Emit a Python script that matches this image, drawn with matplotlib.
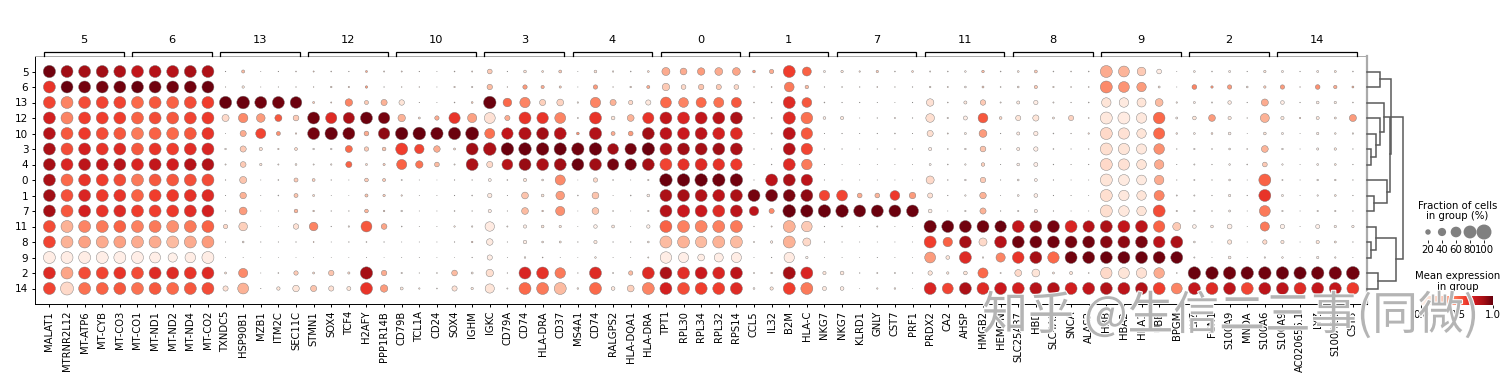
import numpy as np
import matplotlib
matplotlib.use("Agg")
import matplotlib.pyplot as plt
import matplotlib.patheffects as pe

# --- Config ---
W, H = 1511, 383
DPI = 100
MAX_AREA = 95  # scatter area of a 100% dot
LINE_GREY = "#5a5a5a"

clusters = ["5", "6", "13", "12", "10", "3", "4", "0", "1", "7", "11", "8", "9", "2", "14"]
group_labels = ["5", "6", "13", "12", "10", "3", "4", "0", "1", "7", "11", "8", "9", "2", "14"]
genes = [
    "MALAT1", "MTRNR2L12", "MT-ATP6", "MT-CYB", "MT-CO3",
    "MT-CO1", "MT-ND1", "MT-ND2", "MT-ND4", "MT-CO2",
    "TXNDC5", "HSP90B1", "MZB1", "ITM2C", "SEC11C",
    "STMN1", "SOX4", "TCF4", "H2AFY", "PPP1R14B",
    "CD79B", "TCL1A", "CD24", "SOX4", "IGHM",
    "IGKC", "CD79A", "CD74", "HLA-DRA", "CD37",
    "MS4A1", "CD74", "RALGPS2", "HLA-DQA1", "HLA-DRA",
    "TPT1", "RPL30", "RPL34", "RPL32", "RPS14",
    "CCL5", "IL32", "B2M", "HLA-C", "NKG7",
    "NKG7", "KLRD1", "GNLY", "CST7", "PRF1",
    "PRDX2", "CA2", "AHSP", "HMGB2", "HEMGN",
    "SLC25A37", "HBD", "SLC4A1", "SNCA", "ALAS2",
    "HBB", "HBA2", "HBA1", "UBB", "BPGM",
    "LYZ", "FCN1", "S100A9", "MNDA", "S100A6",
    "S100A9", "AC020656.1", "LYZ", "S100A11", "CST3",
]

# fraction of cells in group (%), one row per cluster
frac = [
    [88,85,85,85,85, 85,85,85,85,85, 2,14,1,2,3, 4,3,2,8,4, 4,2,1,3,4, 25,2,12,7,13, 1,12,5,3,7, 50,40,45,48,48, 12,22,85,58,8, 10,5,10,3,7, 4,3,6,11,3, 7,13,3,3,3, 85,75,55,25,1, 7,3,8,2,10, 8,2,8,8,3],
    [85,85,85,85,85, 85,85,85,85,85, 1.5,10,1,1.5,2, 2,6,5,10,2, 2,2,1,5,5, 30,2,22,15,9, 1,22,2,6,14, 45,25,30,28,25, 2,3,65,17,2, 3,2,3,2,2, 6,4,7,8,3, 7,15,5,3,3, 85,75,62,8,1, 25,10,22,7,10, 22,2,24,16,8],
    [85,85,85,85,85, 85,85,85,85,85, 88,92,85,85,82, 8,4,45,20,35, 30,1.5,1,3,7, 90,55,70,35,40, 5,70,35,22,28, 75,65,68,68,68, 3,3,85,65,3, 2,2,1.5,1,2, 45,3,14,30,4, 14,22,4,2,3, 62,62,58,48,5, 8,4,17,2,42, 18,2,12,10,3],
    [85,85,85,85,85, 85,85,85,85,85, 42,62,55,42,32, 85,78,78,85,80, 45,8,22,78,60, 75,28,85,80,75, 4,85,18,40,78, 85,85,85,85,85, 3,3,88,82,12, 15,1,2,4,2, 55,5,20,65,12, 28,35,8,28,3, 85,85,70,82,8, 18,40,15,2,58, 15,5,14,8,42],
    [85,85,85,85,85, 85,85,85,85,85, 1,35,68,20,5, 85,90,85,25,80, 90,92,88,88,95, 68,80,88,85,85, 12,88,20,25,85, 85,85,85,85,85, 1.5,4,88,80,1.5, 2,1.5,2,3,1.5, 35,4,8,48,2, 14,22,3,2,5, 85,78,62,78,6, 7,7,12,1,12, 8,1,10,6,5],
    [85,85,85,85,85, 85,85,85,85,85, 6,35,15,5,13, 6,6,42,22,18, 85,62,38,8,85, 92,90,90,90,88, 88,90,75,80,90, 85,85,85,85,85, 2,2,85,80,2, 2,1,1.5,2,1.5, 15,3,6,32,2, 14,22,3,1.5,2, 85,78,68,72,2, 5,3,7,3,40, 6,1,9,10,2],
    [85,85,85,85,85, 85,85,85,85,85, 4,32,10,4,7, 4,5,35,8,9, 68,45,25,4,85, 35,75,85,85,85, 85,85,80,80,85, 85,80,85,82,80, 1.5,2.5,85,72,1.5, 1,1,1,1,1, 8,3,5,17,1.5, 12,20,2.5,1.5,2, 85,78,65,62,1.5, 4,2,6,3,25, 5,1,7,7,2],
    [85,85,85,85,85, 85,85,85,85,85, 2,42,1,3,20, 13,2,1,18,14, 4,1,0.6,2,2, 13,3,15,7,68, 0.7,22,3,1,5, 90,90,90,90,90, 1.5,85,85,80,1.5, 1,1,1,1,1, 50,2.5,6,30,1.5, 7,13,2,1,1, 85,75,65,62,1.5, 4,2,7,1,85, 4,1,6,6,2],
    [85,85,85,85,85, 85,85,85,85,85, 1.5,38,1,3,20, 8,1,0.7,14,10, 5,1,1,2,3, 22,1.5,40,12,55, 3,40,1,3,12, 85,85,85,85,85, 85,85,85,85,72, 75,25,25,65,38, 27,2,5,38,1, 7,18,2,1.5,1, 85,70,62,68,4, 4,2,10,2,85, 8,1,5,7,2],
    [85,85,85,85,85, 85,85,85,85,85, 2,48,1,1,18, 6,2,2,18,6, 6,1,1,3,2, 15,1.5,40,6,60, 0.8,40,3,0.8,5, 85,88,85,85,85, 62,28,92,88,90, 90,85,85,85,85, 18,1,5,35,2, 5,15,2,1,1, 85,72,62,85,5, 5,2.5,8,1,75, 5,1,5,5,2],
    [85,85,85,85,85, 85,85,85,85,85, 22,55,0.7,0.7,30, 55,2,5,75,32, 3,1,1,5,5, 62,4,15,12,10, 0.8,17,13,0.8,16, 85,85,85,85,85, 2,4,85,72,2, 3,1,4,1,1, 88,85,85,85,80, 85,85,85,85,80, 85,85,85,80,50, 18,12,25,1,60, 22,1,20,10,10],
    [85,85,85,85,85, 85,85,85,85,85, 1.5,7,1.5,1.5,2, 3,1,2,3,2, 1,1,1,2,6, 38,1.5,17,7,8, 2,15,2,2,7, 85,85,80,85,85, 4,10,85,50,2, 1.5,1,1,1,1, 85,62,85,50,85, 85,85,85,85,85, 85,85,85,82,85, 7,1,22,1,22, 15,1,15,8,2],
    [85,85,85,85,85, 85,75,60,72,85, 1,1,0.7,0.7,0.7, 0.7,0.7,0.7,1.2,0.7, 1,1,0.7,0.7,2, 28,1,6,3,1, 0.7,6,1,1,4, 80,68,40,58,68, 1,2,70,10,1, 1,0.7,1.5,1,0.7, 75,18,85,5,60, 82,85,80,85,85, 85,85,85,85,85, 4,1,12,1,5, 6,0.7,10,5,1],
    [85,85,85,85,85, 85,85,85,85,85, 8,60,1,3,22, 8,30,9,88,30, 5,1.5,3,32,8, 45,2,85,85,72, 2,85,4,22,85, 85,85,85,85,85, 4,6,88,85,15, 18,2,4,4,2, 22,10,18,68,4, 40,48,8,14,3, 80,75,70,72,3, 90,90,90,90,90, 90,88,90,90,95],
    [85,95,85,85,85, 85,85,85,85,85, 28,75,1.5,16,38, 35,28,20,85,45, 13,5,3,28,10, 60,4,85,85,85, 6,85,18,40,85, 85,85,85,85,85, 7,15,85,85,20, 18,0.7,5,6,0.7, 85,75,85,85,85, 85,85,85,85,85, 85,85,85,85,75, 85,85,85,85,85, 85,85,85,85,85],
]

# mean expression in group, scaled 0-1, same shape as frac
expr = [
    [.98,.88,.87,.88,.84, .78,.82,.82,.86,.84, .2,.25,.2,.2,.15, .2,.15,.1,.3,.15, .15,.2,.1,.2,.15, .2,.1,.12,.15,.2, .1,.12,.12,.1,.15, .3,.3,.35,.3,.32, .35,.3,.62,.52,.05, .1,.15,.2,.1,.15, .1,.1,.05,.25,.15, .1,.2,.1,.1,.1, .3,.27,.2,.05,.05, .05,.05,.05,.05,.1, .05,.05,.05,.1,.05],
    [.65,1,.97,.97,.98, 1,.98,.98,.98,.99, .2,.1,.2,.1,.15, .2,.15,.2,.35,.1, .2,.2,.1,.15,.1, .25,.2,.35,.3,.2, .1,.35,.2,.15,.3, .2,.15,.22,.2,.15, .15,.2,.45,.25,.1, .1,.15,.2,.1,.1, .1,.15,.05,.2,.15, .1,.2,.15,.15,.15, .4,.37,.35,.1,.05, .42,.38,.35,.12,.2, .35,.2,.38,.3,.3],
    [.6,.42,.58,.6,.6, .5,.55,.52,.58,.62, 1,.99,.98,.98,.99, .2,.2,.42,.2,.28, .1,.2,.1,.2,.2, .99,.5,.42,.18,.17, .1,.42,.28,.15,.08, .5,.42,.5,.48,.55, .15,.15,.68,.55,.15, .1,.1,.1,.1,.1, .12,.15,.08,.2,.1, .07,.05,.1,.1,.1, .1,.07,.1,.25,.1, .05,.1,.07,.1,.3, .05,.1,.05,.07,.1],
    [.72,.42,.62,.62,.62, .52,.58,.55,.6,.63, .15,.4,.35,.55,.2, .98,.68,.85,.99,.97, .28,.15,.3,.65,.33, .12,.3,.65,.65,.42, .1,.65,.1,.28,.65, .78,.7,.78,.8,.85, .1,.1,.68,.48,.05, .07,.05,.1,.15,.1, .13,.1,.05,.55,.15, .1,.1,.08,.17,.15, .08,.06,.08,.5,.05, .1,.35,.08,.1,.28, .08,.2,.08,.1,.35],
    [.82,.55,.63,.58,.55, .45,.52,.5,.55,.65, .1,.3,.6,.38,.2, .97,.99,.98,.3,.92, 1,1,.99,.99,.99, .48,.78,.83,.88,.82, .38,.83,.3,.35,.88, .8,.75,.8,.72,.68, .1,.15,.8,.55,.1, .1,.1,.1,.1,.1, .13,.15,.07,.35,.1, .06,.06,.1,.1,.15, .15,.12,.1,.5,.12, .05,.15,.05,.05,.1, .05,.05,.05,.1,.1],
    [.85,.58,.72,.65,.68, .55,.65,.62,.67,.7, .05,.2,.12,.15,.15, .05,.03,.5,.2,.22, .62,.6,.3,.15,.88, .85,.99,.99,.98,.99, .98,.99,.88,.97,.99, .84,.88,.87,.88,.85, .1,.1,.82,.6,.1, .1,.1,.1,.1,.1, .05,.1,.05,.22,.1, .06,.04,.1,.1,.1, .13,.1,.08,.38,.1, .05,.1,.05,.1,.27, .05,.1,.05,.1,.1],
    [.87,.7,.8,.78,.82, .7,.78,.73,.82,.83, .1,.2,.1,.12,.1, .1,.1,.52,.15,.2, .52,.47,.25,.1,.85, .15,.82,.9,.85,.88, .99,.88,.97,.97,.87, .6,.66,.68,.66,.63, .1,.1,.68,.45,.1, .1,.1,.1,.1,.1, .02,.1,.05,.18,.1, .04,.04,.1,.1,.1, .15,.12,.1,.3,.1, .05,.1,.05,.1,.2, .05,.1,.05,.1,.1],
    [.85,.5,.65,.62,.58, .45,.55,.55,.57,.58, .1,.22,.1,.1,.2, .18,.1,.1,.2,.2, .05,.1,.1,.1,.1, .03,.1,.1,.1,.4, .1,.15,.1,.1,.1, .99,.99,.99,.98,.98, .1,.8,.85,.8,.1, .1,.1,.1,.1,.1, .15,.1,.03,.2,.1, .05,.03,.1,.1,.1, .1,.07,.07,.3,.1, .05,.1,.05,.1,.52, .05,.1,.05,.1,.1],
    [.88,.57,.7,.63,.65, .52,.62,.63,.66,.68, .1,.28,.1,.1,.22, .15,.1,.1,.22,.2, .15,.1,.1,.1,.1, .07,.1,.22,.1,.35, .1,.22,.1,.1,.05, .85,.87,.83,.8,.85, .97,.97,.96,.92,.6, .6,.3,.27,.63,.35, .12,.1,.05,.28,.1, .05,.05,.1,.1,.1, .13,.08,.1,.42,.1, .05,.1,.05,.1,.65, .05,.1,.05,.1,.1],
    [.87,.55,.72,.65,.68, .62,.62,.63,.67,.72, .1,.35,.1,.1,.27, .2,.1,.1,.27,.2, .03,.1,.1,.1,.1, .05,.1,.25,.2,.38, .1,.22,.1,.1,.1, .82,.75,.75,.68,.8, .8,.4,.99,.99,.99, .99,.99,.99,.99,.99, .05,.1,.05,.28,.1, .05,.05,.1,.1,.1, .13,.08,.1,.58,.1, .05,.1,.05,.1,.45, .05,.1,.05,.1,.1],
    [.58,.28,.42,.45,.52, .43,.45,.38,.45,.52, .15,.18,.1,.1,.12, .42,.1,.1,.55,.32, .1,.1,.1,.1,.1, .06,.1,.05,.1,.1, .1,.03,.08,.1,.03, .52,.43,.42,.43,.45, .1,.15,.28,.2,.1, .1,.1,.1,.1,.1, .98,.99,.98,.98,.99, .78,.93,.97,.7,.82, .85,.78,.8,.52,.2, .03,.06,.03,.1,.45, .03,.1,.03,.05,.05],
    [.6,.28,.33,.3,.33, .3,.3,.25,.3,.35, .1,.1,.1,.1,.1, .3,.1,.1,.1,.1, .1,.1,.1,.1,.2, .07,.1,.05,.1,.1, .1,.08,.1,.1,.08, .25,.28,.25,.28,.25, .1,.06,.28,.15,.1, .1,.1,.1,.1,.1, .62,.52,.87,.15,.82, .98,.98,.98,.97,.98, .93,.92,.96,.8,.85, .05,.1,.1,.1,.15, .1,.1,.1,.1,.1],
    [.05,.05,.05,.04,.04, .04,.04,.03,.05,.05, .1,.1,.1,.1,.1, .1,.1,.1,.1,.1, .1,.1,.1,.1,.1, .05,.1,.1,.2,.1, .1,.1,.1,.1,.1, .05,.04,.05,.05,.05, .1,.1,.06,.03,.1, .1,.1,.1,.1,.1, .35,.1,.68,.1,.42, .65,.87,.5,.98,.98, .99,.99,.99,.98,.99, .05,.1,.05,.1,.1, .05,.1,.05,.1,.1],
    [.68,.32,.58,.6,.65, .58,.68,.68,.65,.68, .12,.4,.1,.1,.2, .15,.22,.15,.87,.3, .1,.1,.1,.25,.08, .13,.1,.7,.66,.45, .1,.68,.1,.25,.68, .85,.67,.75,.7,.8, .1,.15,.87,.7,.1, .08,.1,.1,.1,.1, .1,.1,.1,.5,.1, .15,.1,.1,.1,.1, .15,.1,.12,.3,.1, .99,.99,.98,.99,.98, .99,.99,.98,.97,.98],
    [.6,.15,.48,.52,.55, .48,.55,.5,.55,.58, .12,.28,.1,.1,.1, .22,.12,.1,.65,.35, .08,.1,.1,.12,.08, .1,.05,.5,.45,.25, .1,.5,.08,.18,.42, .72,.58,.62,.62,.68, .05,.1,.62,.45,.08, .05,.1,.1,.1,.1, .7,.6,.85,.68,.75, .72,.82,.83,.73,.78, .83,.8,.83,.62,.42, .78,.68,.8,.6,.8, .8,.68,.78,.78,.63],
]

# dendrogram: (key, left child, right child, height in px); ints are row positions,
# other entries point back at an earlier merge by its key
merges = [
    ("a", 0, 1, 12.7),
    ("d34", 5, 6, 4.0),
    ("d10", 4, "d34", 8.7),
    ("d12", 3, "d10", 13.0),
    ("b", 2, "d12", 17.3),
    ("d17", 8, 9, 6.7),
    ("c", 7, "d17", 20.0),
    ("bc", "b", "c", 22.7),
    ("abc", "a", "bc", 24.0),
    ("d89", 11, 12, 4.0),
    ("d", 10, "d89", 9.0),
    ("e", 13, 14, 11.3),
    ("de", "d", "e", 29.0),
    ("top", "abc", "de", 36.0),
]

legend_fracs = [20, 40, 60, 80, 100]
cbar_ticks = [0.0, 0.5, 1.0]


def px_axes(fig, left, top, right, bottom):
    # axes placed by image pixels, y counted from the top
    return fig.add_axes([left / W, 1 - bottom / H, (right - left) / W, (bottom - top) / H])


def dot_size(f):
    return MAX_AREA * (np.asarray(f, dtype=float) / 100) ** 1.5


if __name__ == "__main__":
    plt.rcParams["font.family"] = ["DejaVu Sans"]
    frac = np.array(frac)
    expr = np.array(expr)
    n_rows, n_cols = frac.shape
    fig = plt.figure(figsize=(W / DPI, H / DPI), dpi=DPI, facecolor="white")

    # main dot panel
    ax = px_axes(fig, 35.3, 56, 1367, 304)
    xx, yy = np.meshgrid(np.arange(n_cols) + 0.5, np.arange(n_rows) + 0.5)
    ax.scatter(xx.ravel(), yy.ravel(), s=dot_size(frac.ravel()), c=expr.ravel(), cmap="Reds",
               vmin=0, vmax=1, edgecolor="#777777", linewidth=0.3, zorder=3)
    ax.set_xlim(-0.3, n_cols + 0.3)
    ax.set_ylim(n_rows + 0.5, -0.5)
    ax.set_xticks(np.arange(n_cols) + 0.5)
    ax.set_xticklabels(genes, rotation=90, fontsize=7.2)
    ax.set_yticks(np.arange(n_rows) + 0.5)
    ax.set_yticklabels(clusters, fontsize=7.5)
    ax.tick_params(length=2.5, width=0.7, pad=2.5)
    ax.spines["top"].set(color="#aaaaaa", linewidth=0.7)
    ax.spines["right"].set(color="#aaaaaa", linewidth=1.6)
    ax.spines["left"].set_linewidth(0.7)
    ax.spines["bottom"].set_linewidth(0.7)

    # gene group brackets above the panel
    gax = px_axes(fig, 35.3, 51.5, 1367, 56)
    gax.set_xlim(ax.get_xlim())
    gax.set_ylim(0, 1)
    gax.axis("off")
    for i, label in enumerate(group_labels):
        x0, x1 = i * 5 + 0.2, i * 5 + 4 + 0.72
        gax.plot([x0, x0, x1, x1], [0, 1, 1, 0], color="black", lw=0.9, clip_on=False,
                 solid_joinstyle="miter")
        gax.text((x0 + x1) / 2, 3.55, label, ha="center", va="center", fontsize=8.2)

    # dendrogram, shares the row positions of the panel
    dax = px_axes(fig, 1367, 56, 1412, 304)
    dax.set_xlim(0, 45)
    dax.set_ylim(ax.get_ylim())
    dax.axis("off")
    nodes = {}
    for key, left, right, height in merges:
        y0, h0 = nodes[left] if left in nodes else (left + 0.5, 0)
        y1, h1 = nodes[right] if right in nodes else (right + 0.5, 0)
        dax.plot([h0, height, height, h1], [y0, y0, y1, y1], color=LINE_GREY, lw=1.1,
                 solid_joinstyle="miter", clip_on=False)
        nodes[key] = ((y0 + y1) / 2, height)

    # dot size legend
    fig.text(1457.5 / W, 1 - 211 / H, "Fraction of cells\nin group (%)", ha="center", va="center",
             fontsize=7.3, linespacing=1.1)
    sax = px_axes(fig, 1421, 224, 1491, 240)
    sax.scatter(np.arange(5) + 0.5, [0.5] * 5, s=dot_size(legend_fracs), color="#808080", clip_on=False)
    sax.set_xlim(0, 5)
    sax.set_ylim(0, 1)
    sax.set_yticks([])
    sax.set_xticks(np.arange(5) + 0.5)
    sax.set_xticklabels(legend_fracs, fontsize=7.3)
    sax.tick_params(length=2, width=0.6, pad=1.5)
    for s in sax.spines.values():
        s.set_visible(False)

    # colour legend
    fig.text(1457.5 / W, 1 - 281.5 / H, "Mean expression\nin group", ha="center", va="center",
             fontsize=7.3, linespacing=1.1)
    cax = px_axes(fig, 1421, 296, 1493, 305)
    cax.imshow(np.linspace(0, 1, 256)[None, :], cmap="Reds", aspect="auto", extent=[0, 1, 0, 1])
    cax.set_yticks([])
    cax.set_xticks(cbar_ticks)
    cax.set_xticklabels(["%.1f" % t for t in cbar_ticks], fontsize=7.3)
    cax.tick_params(length=2, width=0.6, pad=1.5)
    for s in cax.spines.values():
        s.set_visible(False)

    # watermark lies over everything
    fig.text(1231 / W, 1 - 316 / H, "知乎 @生信二三事(同微)", ha="center", va="center", fontsize=33,
             family=["Noto Sans CJK SC", "DejaVu Sans"], color="#b4b4b4", zorder=20,
             path_effects=[pe.withStroke(linewidth=1.5, foreground="white")])

    fig.savefig("out.png", dpi=DPI)
